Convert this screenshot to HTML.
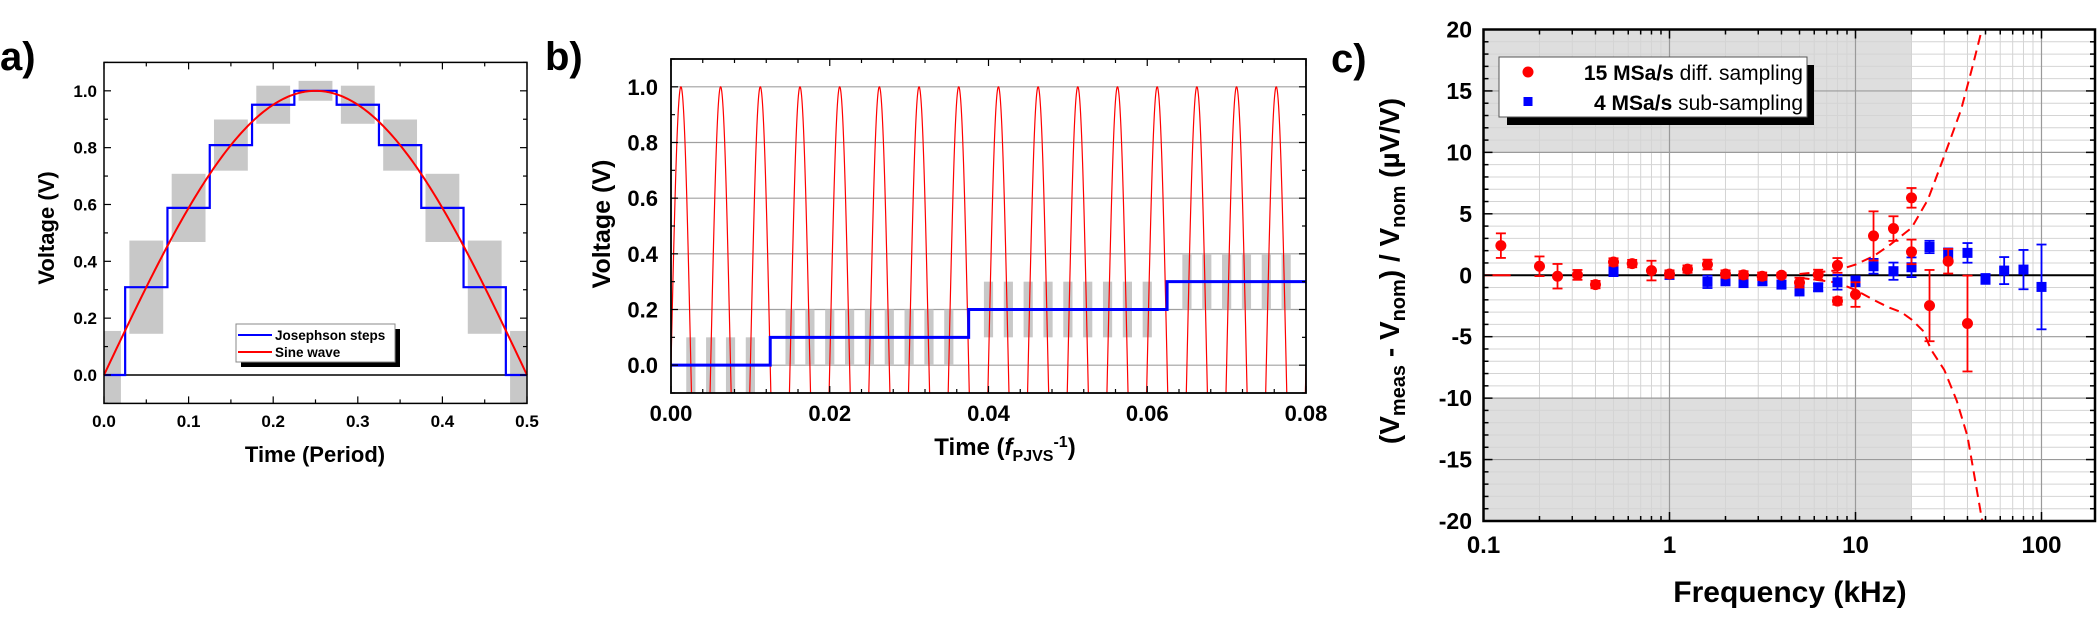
<!DOCTYPE html>
<html><head><meta charset="utf-8">
<style>
html,body{margin:0;padding:0;background:#fff;}
svg{display:block;font-family:"Liberation Sans",Arial,sans-serif;}
</style></head>
<body>
<svg id="fig" width="2100" height="624" viewBox="0 0 2100 624" xmlns="http://www.w3.org/2000/svg">
  <g id="pa"></g>
  <g id="pb"></g>
  <g id="pc"></g>
</svg>
<script>
// ---------- Panel a data ----------
const aStepEdges = [0,0.025,0.075,0.125,0.175,0.225,0.275,0.325,0.375,0.425,0.475,0.5];
const aStepValues = [0,0.309,0.588,0.809,0.951,1.0,0.951,0.809,0.588,0.309,0];
const aBoxCenters = [0,0.05,0.1,0.15,0.2,0.25,0.3,0.35,0.4,0.45,0.5];
const aBoxHalf = [0.155,0.164,0.12,0.09,0.067,0.035,0.067,0.09,0.12,0.164,0.155];
const aSineAmp = [1.0];
const aSinePeriod = [1.0];
const aXTicks = ["0.0","0.1","0.2","0.3","0.4","0.5"];
const aYTicks = ["0.0","0.2","0.4","0.6","0.8","1.0"];
// ---------- Panel b data ----------
const bStepEdges = [0,0.0125,0.0375,0.0625,0.08];
const bStepValues = [0,0.1,0.2,0.3];
const bBarX = [0.0025,0.005,0.0075,0.01,
  0.015,0.0175,0.02,0.0225,0.025,0.0275,0.03,0.0325,0.035,
  0.04,0.0425,0.045,0.0475,0.05,0.0525,0.055,0.0575,0.06,
  0.065,0.0675,0.07,0.0725,0.075,0.0775];
const bBarLevel = [0,0,0,0, 0.1,0.1,0.1,0.1,0.1,0.1,0.1,0.1,0.1,
  0.2,0.2,0.2,0.2,0.2,0.2,0.2,0.2,0.2, 0.3,0.3,0.3,0.3,0.3,0.3];
const bSinePeriod = [0.005];
const bXTicks = ["0.00","0.02","0.04","0.06","0.08"];
const bYTicks = ["0.0","0.2","0.4","0.6","0.8","1.0"];
// ---------- Panel c data ----------
const redF = [0.124,0.2,0.25,0.32,0.4,0.5,0.63,0.8,1.0,1.25,1.6,2.0,2.5,3.15,4.0,5.0,6.3,8,8,10,12.5,16,20,20,25,31.5,40];
const redV = [2.41,0.73,-0.08,0.03,-0.76,1.08,0.95,0.38,0.1,0.5,0.87,0.1,0.03,-0.08,0,-0.6,0.05,0.8,-2.1,-1.57,3.2,3.8,6.3,1.9,-2.47,1.14,-3.93];
const redE = [1.0,0.8,1.0,0.4,0.3,0.3,0.3,0.8,0.3,0.3,0.4,0.3,0.3,0.3,0.2,0.4,0.4,0.6,0.3,1.0,2.0,1.0,0.8,1.0,2.9,1.0,3.9];
const blueF = [0.5,1.0,1.6,2.0,2.5,3.16,4.0,5.0,6.3,8,10,12.5,16,20,25,31.5,40,50,63,80,100];
const blueV = [0.33,0.03,-0.54,-0.49,-0.57,-0.49,-0.76,-1.25,-0.98,-0.57,-0.49,0.73,0.33,0.65,2.3,1.68,1.82,-0.3,0.38,0.46,-0.95];
const blueE = [0.4,0.3,0.5,0.3,0.4,0.3,0.3,0.4,0.3,0.6,0.4,0.6,0.7,0.8,0.5,0.5,0.8,0.4,1.1,1.6,3.45];
const upF = [5,8,10,12.5,15.4,20,24.5,30,37,42.6,47.8,50];
const upV = [0.1,0.4,0.87,1.55,2.5,3.85,6.15,9.7,13.5,17,20,21.5];
const loF = [5,8,10,12.5,15,17.6,20,23,25.6,30,35,40,44,48,50];
const loV = [-0.2,-0.6,-1.2,-2.0,-2.6,-3.0,-3.6,-4.5,-6.1,-7.7,-10.2,-13.1,-16.7,-20,-21.5];
const cXTicks = ["0.1","1","10","100"];
const cXTickVals = [0.1,1,10,100];
const cYTicks = ["-20","-15","-10","-5","0","5","10","15","20"];
const cYTickVals = [-20,-15,-10,-5,0,5,10,15,20];
const cShadeX = [0.1,20];

const NS="http://www.w3.org/2000/svg";
function mk(parent,tag,attrs,text){const e=document.createElementNS(NS,tag);for(const k in attrs)e.setAttribute(k,attrs[k]);if(text!==undefined)e.textContent=text;parent.appendChild(e);return e;}

// ================= Panel a =================
(function(){
const g=document.getElementById('pa');
const L=104,R=527,T=62.4,B=403.4;
const x=v=>L+(v-0)/(0.5)*(R-L);
const y=v=>B-(v+0.1)/1.2*(B-T);
const clip=mk(g,'clipPath',{id:'clipA'});mk(clip,'rect',{x:L,y:T,width:R-L,height:B-T});
const lbl=mk(g,'text',{x:0,y:70,'font-size':40,'font-weight':'bold'},'a)');

const boxes=mk(g,'g',{'clip-path':'url(#clipA)'});

aBoxCenters.forEach((c,i)=>{
  const r=mk(boxes,'rect',{x:x(c-0.02),y:y(aStepValues[i]+aBoxHalf[i]),width:x(c+0.02)-x(c-0.02),height:y(aStepValues[i]-aBoxHalf[i])-y(aStepValues[i]+aBoxHalf[i]),fill:'#c8c8c8'});
  
});
mk(g,'line',{x1:L,x2:R,y1:y(0),y2:y(0),stroke:'#000','stroke-width':1.5});
let d='';
aStepValues.forEach((v,i)=>{d+=(i?'L':'M')+x(aStepEdges[i])+' '+y(v)+'L'+x(aStepEdges[i+1])+' '+y(v);});
const st=mk(g,'path',{d:d,fill:'none',stroke:'#0000ff','stroke-width':2.2});

let ds='';for(let i=0;i<=200;i++){const t=0.5*i/200;ds+=(i?'L':'M')+x(t).toFixed(2)+' '+y(aSineAmp[0]*Math.sin(2*Math.PI*t/aSinePeriod[0])).toFixed(2);}
const sl=mk(g,'path',{d:ds,fill:'none',stroke:'#ff0000','stroke-width':2});

mk(g,'rect',{x:L,y:T,width:R-L,height:B-T,fill:'none',stroke:'#000','stroke-width':1.5});
// ticks
for(let i=0;i<=10;i++){const v=i*0.05,len=i%2?4:7;mk(g,'line',{x1:x(v),x2:x(v),y1:B,y2:B-len,stroke:'#000','stroke-width':1.2});mk(g,'line',{x1:x(v),x2:x(v),y1:T,y2:T+len,stroke:'#000','stroke-width':1.2});}
for(let i=-1;i<=11;i++){const v=i*0.1,len=(i%2===0)?7:4;mk(g,'line',{x1:L,x2:L+len,y1:y(v),y2:y(v),stroke:'#000','stroke-width':1.2});mk(g,'line',{x1:R,x2:R-len,y1:y(v),y2:y(v),stroke:'#000','stroke-width':1.2});}
aXTicks.forEach((s,i)=>{const t=mk(g,'text',{x:x(i*0.1),y:427,'font-size':17,'font-weight':'bold','text-anchor':'middle'},s);});
aYTicks.forEach((s,i)=>{const t=mk(g,'text',{x:97,y:y(i*0.2)+6,'font-size':17,'font-weight':'bold','text-anchor':'end'},s);});
const xt=mk(g,'text',{x:315,y:462,'font-size':22,'font-weight':'bold','text-anchor':'middle'},'Time (Period)');
const yt=mk(g,'text',{x:0,y:0,'font-size':22,'font-weight':'bold','text-anchor':'middle',transform:'translate(54,228) rotate(-90)'},'Voltage (V)');
const lg=mk(g,'g',{});
mk(lg,'rect',{x:241,y:329,width:159,height:38,fill:'#000'});
mk(lg,'rect',{x:236,y:324,width:159,height:38,fill:'#fff',stroke:'#888','stroke-width':1});
mk(lg,'line',{x1:238,x2:272,y1:335,y2:335,stroke:'#0000ff','stroke-width':2});
mk(lg,'line',{x1:238,x2:272,y1:352,y2:352,stroke:'#ff0000','stroke-width':2});
const l1=mk(lg,'text',{x:275,y:340,'font-size':13.5,'font-weight':'bold'},'Josephson steps');
const l2=mk(lg,'text',{x:275,y:357,'font-size':13.5,'font-weight':'bold'},'Sine wave');
})();

// ================= Panel b =================
(function(){
const g=document.getElementById('pb');
const L=671,R=1306,T=59,B=393;
const x=v=>L+v/0.08*(R-L);
const y=v=>B-(v+0.1)/1.2*(B-T);
const clip=mk(g,'clipPath',{id:'clipB'});mk(clip,'rect',{x:L,y:T,width:R-L,height:B-T});
const lbl=mk(g,'text',{x:545,y:70,'font-size':40,'font-weight':'bold'},'b)');
for(let i=0;i<=5;i++){mk(g,'line',{x1:L,x2:R,y1:y(i*0.2),y2:y(i*0.2),stroke:'#a0a0a0','stroke-width':1.2});}
const bars=mk(g,'g',{'clip-path':'url(#clipB)'});
bBarX.forEach((c,i)=>{const lv=bBarLevel[i];const r=mk(bars,'rect',{x:x(c)-4.6,y:y(lv+0.1),width:9.2,height:y(lv-0.1)-y(lv+0.1),fill:'#c8c8c8'});});
let ds='';for(let i=0;i<=3200;i++){const t=0.08*i/3200;ds+=(i?'L':'M')+x(t).toFixed(2)+' '+y(Math.sin(2*Math.PI*t/bSinePeriod[0])).toFixed(2);}
const sl=mk(g,'path',{d:ds,fill:'none',stroke:'#ff0000','stroke-width':1.2,'clip-path':'url(#clipB)'});
let d='';bStepValues.forEach((v,i)=>{d+=(i?'L':'M')+x(bStepEdges[i])+' '+y(v)+'L'+x(bStepEdges[i+1])+' '+y(v);});
const st=mk(g,'path',{d:d,fill:'none',stroke:'#0000ff','stroke-width':3});
mk(g,'rect',{x:L,y:T,width:R-L,height:B-T,fill:'none',stroke:'#000','stroke-width':1.8});
for(let i=0;i<=20;i++){const v=i*0.004,len=(i%5===0)?7:4;mk(g,'line',{x1:x(v),x2:x(v),y1:B,y2:B-len,stroke:'#000','stroke-width':1.2});mk(g,'line',{x1:x(v),x2:x(v),y1:T,y2:T+len,stroke:'#000','stroke-width':1.2});}
for(let i=-1;i<=11;i++){const v=i*0.1,len=(i%2===0)?7:4;mk(g,'line',{x1:L,x2:L+len,y1:y(v),y2:y(v),stroke:'#000','stroke-width':1.2});mk(g,'line',{x1:R,x2:R-len,y1:y(v),y2:y(v),stroke:'#000','stroke-width':1.2});}
bXTicks.forEach((s,i)=>{const t=mk(g,'text',{x:x(i*0.02),y:421,'font-size':22,'font-weight':'bold','text-anchor':'middle'},s);});
bYTicks.forEach((s,i)=>{const t=mk(g,'text',{x:658,y:y(i*0.2)+8,'font-size':22,'font-weight':'bold','text-anchor':'end'},s);});
const xt=mk(g,'text',{x:1005,y:455,'font-size':24,'font-weight':'bold','text-anchor':'middle'});
xt.innerHTML='Time (<tspan font-style="italic">f</tspan><tspan font-size="16" dy="6">PJVS</tspan><tspan font-size="16" dy="-14">-1</tspan><tspan dy="8">)</tspan>';
const yt=mk(g,'text',{x:0,y:0,'font-size':25,'font-weight':'bold','text-anchor':'middle',transform:'translate(610,224) rotate(-90)'},'Voltage (V)');
})();

// ================= Panel c =================
(function(){
const g=document.getElementById('pc');
const L=1483.5,R=2095,T=29.5,B=521;
const dec=186;
const x=f=>L+(Math.log10(f)+1)*dec;
const y=v=>B-(v+20)/40*(B-T);
const clip=mk(g,'clipPath',{id:'clipC'});mk(clip,'rect',{x:L,y:T,width:R-L,height:B-T});
const lbl=mk(g,'text',{x:1331,y:72,'font-size':40,'font-weight':'bold'},'c)');
const sh=mk(g,'g',{});
mk(sh,'rect',{x:x(cShadeX[0]),y:y(20),width:x(cShadeX[1])-x(cShadeX[0]),height:y(10)-y(20),fill:'#dedede'});
mk(sh,'rect',{x:x(cShadeX[0]),y:y(-10),width:x(cShadeX[1])-x(cShadeX[0]),height:y(-20)-y(-10),fill:'#dedede'});
const grid=mk(g,'g',{'clip-path':'url(#clipC)'});
for(let v=-20;v<=20;v++){if(v%5===0)continue;mk(grid,'line',{x1:L,x2:R,y1:y(v),y2:y(v),stroke:'#d4d4d4','stroke-width':1});}
for(let e=-1;e<=2;e++)for(let m=2;m<=9;m++){const f=m*Math.pow(10,e);mk(grid,'line',{x1:x(f),x2:x(f),y1:T,y2:B,stroke:'#d4d4d4','stroke-width':1});}
for(let v=-15;v<=15;v+=5){mk(grid,'line',{x1:L,x2:R,y1:y(v),y2:y(v),stroke:'#9a9a9a','stroke-width':1.2});}
[1,10,100].forEach(f=>mk(grid,'line',{x1:x(f),x2:x(f),y1:T,y2:B,stroke:'#9a9a9a','stroke-width':1.2}));
mk(g,'line',{x1:L,x2:R,y1:y(0),y2:y(0),stroke:'#000','stroke-width':2});
mk(g,'line',{x1:L,x2:x(0.14),y1:y(0),y2:y(0),stroke:'#ff0000','stroke-width':2});
// envelope curves
function curve(F,V,name){let d='';F.forEach((f,i)=>{d+=(i?'L':'M')+x(f).toFixed(2)+' '+y(V[i]).toFixed(2);});const p=mk(g,'path',{d:d,fill:'none',stroke:'#ff0000','stroke-width':2,'stroke-dasharray':'10,6','clip-path':'url(#clipC)'});}
curve(upF,upV,'upper-limit-curve');curve(loF,loV,'lower-limit-curve');
// series
function series(F,V,E,col,shape,name){const sg=mk(g,'g',{'clip-path':'url(#clipC)'});
F.forEach((f,i)=>{const cx=x(f),cy=y(V[i]),y1=y(V[i]+E[i]),y2=y(V[i]-E[i]);
mk(sg,'line',{x1:cx,x2:cx,y1:y1,y2:y2,stroke:col,'stroke-width':1.8});
mk(sg,'line',{x1:cx-5,x2:cx+5,y1:y1,y2:y1,stroke:col,'stroke-width':1.8});
mk(sg,'line',{x1:cx-5,x2:cx+5,y1:y2,y2:y2,stroke:col,'stroke-width':1.8});
let m;if(shape==='c'){m=mk(sg,'circle',{cx:cx,cy:cy,r:5.5,fill:col});}else{m=mk(sg,'rect',{x:cx-5,y:cy-5,width:10,height:10,fill:col});}
});}
series(blueF,blueV,blueE,'#0000ff','s','sub-sampling-series');
series(redF,redV,redE,'#ff0000','c','diff-sampling-series');
mk(g,'rect',{x:L,y:T,width:R-L,height:B-T,fill:'none',stroke:'#000','stroke-width':2.5});
for(let e=-1;e<=2;e++)for(let m=1;m<=9;m++){const f=m*Math.pow(10,e);if(x(f)>R)continue;const len=m===1?9:5;mk(g,'line',{x1:x(f),x2:x(f),y1:B,y2:B-len,stroke:'#000','stroke-width':1.5});mk(g,'line',{x1:x(f),x2:x(f),y1:T,y2:T+len,stroke:'#000','stroke-width':1.5});}
for(let v=-20;v<=20;v++){const len=v%5===0?9:5;mk(g,'line',{x1:L,x2:L+len,y1:y(v),y2:y(v),stroke:'#000','stroke-width':1.5});mk(g,'line',{x1:R,x2:R-len,y1:y(v),y2:y(v),stroke:'#000','stroke-width':1.5});}
cXTicks.forEach((s,i)=>{const t=mk(g,'text',{x:x(cXTickVals[i]),y:553,'font-size':24,'font-weight':'bold','text-anchor':'middle'},s);});
cYTicks.forEach((s,i)=>{const t=mk(g,'text',{x:1472,y:y(cYTickVals[i])+8,'font-size':23,'font-weight':'bold','text-anchor':'end'},s);});
const xt=mk(g,'text',{x:1790,y:602,'font-size':30,'font-weight':'bold','text-anchor':'middle'},'Frequency (kHz)');
const yt=mk(g,'text',{x:0,y:0,'font-size':28,'font-weight':'bold','text-anchor':'middle',transform:'translate(1399,271) rotate(-90)'});
yt.innerHTML='(V<tspan font-size="20" dy="6">meas</tspan><tspan dy="-6"> - V</tspan><tspan font-size="20" dy="6">nom</tspan><tspan dy="-6">) / V</tspan><tspan font-size="20" dy="6">nom</tspan><tspan dy="-6"> (µV/V)</tspan>';
const lg=mk(g,'g',{});
mk(lg,'rect',{x:1507,y:65,width:307,height:60,fill:'#000'});
mk(lg,'rect',{x:1499,y:57,width:308,height:60,fill:'#fff',stroke:'#555','stroke-width':1});
mk(lg,'circle',{cx:1528,cy:72,r:5.5,fill:'#ff0000'});
mk(lg,'rect',{x:1523.5,y:97,width:9,height:9,fill:'#0000ff'});
const t1=mk(lg,'text',{x:1803,y:80,'font-size':21,'text-anchor':'end'});
t1.innerHTML='<tspan font-weight="bold">15 MSa/s</tspan> diff. sampling';
const t2=mk(lg,'text',{x:1803,y:110,'font-size':21,'text-anchor':'end'});
t2.innerHTML='<tspan font-weight="bold">4 MSa/s</tspan> sub-sampling';
})();
</script>
</body></html>
